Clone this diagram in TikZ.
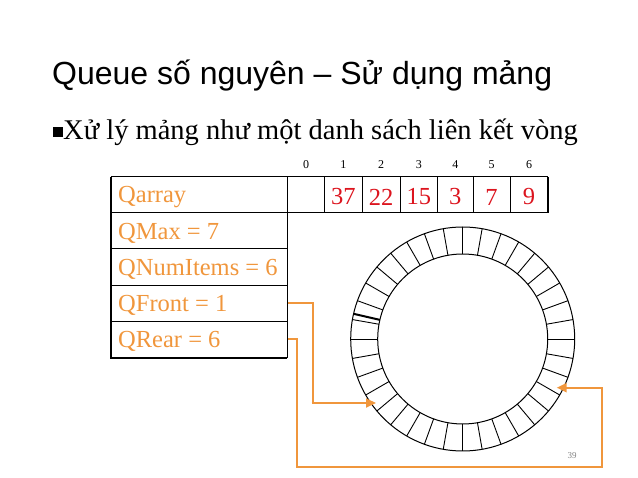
\documentclass[tikz,border=0pt]{standalone}
\usepackage{fontspec}
\setmainfont{Liberation Serif}
\newfontfamily\titlefont{Liberation Sans}
\usetikzlibrary{arrows.meta,calc}
\definecolor{qorange}{RGB}{240,150,60}
\definecolor{qred}{RGB}{220,20,30}
\tikzset{
  lbl/.style={anchor=west,text=qorange,font=\fontsize{24.5}{24.5}\selectfont,inner sep=0pt},
  num/.style={text=qred,font=\fontsize{24.5}{24.5}\selectfont,inner sep=0pt},
  idx/.style={font=\fontsize{12}{12}\selectfont,inner sep=0pt},
  conn/.style={draw=qorange,line width=2pt,-{Triangle[length=10pt,width=9pt]}},
  connplain/.style={draw=qorange,line width=2pt}
}
\begin{document}
\begin{tikzpicture}[x=1pt,y=-1pt]
\useasboundingbox (0,0) rectangle (638,478);
\node[anchor=base west,inner sep=0pt,font=\titlefont\fontsize{32}{32}\selectfont] (title) at (52,85) {Queue số nguyên – Sử dụng mảng};
\fill (53,127) rectangle (63,137);
\node[anchor=base west,inner sep=0pt,font=\fontsize{28.5}{28.5}\selectfont] (bullet) at (63,140) {Xử lý mảng như một danh sách liên kết vòng};
% table
\draw[line width=1pt] (111,177) rectangle (287,358);
\foreach \y in {213,249,286,322} \draw[line width=1pt] (111,\y) -- (287,\y);
\draw[line width=2pt] (111,177) -- (111,358) -- (287,358);
\draw[line width=1pt] (287,177) -- (548,177);
\draw[line width=1pt] (287,213) -- (548,213);
\draw[line width=2pt] (548,177) -- (548,213);
\foreach \x in {324.7,362,400,437.7,473,510.3} \draw[line width=0.9pt] (\x,177) -- (\x,213);
\node[lbl] (qa) at (118,197) {Qarray};
\node[lbl] (qm) at (118,233) {QMax = 7};
\node[lbl] (qn) at (118,269) {QNumItems = 6};
\node[lbl] (qf) at (118,305) {QFront = 1};
\node[lbl] (qr) at (118,341) {QRear = 6};
\foreach \i/\x in {0/306,1/343.3,2/381,3/418.8,4/455.3,5/491.6,6/529.1}
  \node[idx] (i\i) at (\x,165) {\i};
\foreach \v/\x in {37/343.3,22/381,15/418.8,3/455.3,7/491.6,9/529.1}
  \node[num] at (\x,197) {\v};
% ring
\coordinate (c) at (462.7,339);
\draw[line width=1pt] (c) circle[radius=112pt];
\draw[line width=1pt] (c) circle[radius=85pt];
\foreach \a in {0,10,...,350}
  \draw[line width=0.9pt] ($(c)+(\a:85pt)$) -- ($(c)+(\a:112pt)$);
\draw[line width=2pt] ($(c)+(167:85pt)$) -- ($(c)+(167:112pt)$);
% connectors
\coordinate (fs) at (288,302.7);
\coordinate (ft) at (376,403);
\coordinate (rs) at (288,339);
\coordinate (rt) at (556.7,387.7);
\draw[connplain] (fs) -- (312.7,302.7) -- (312.7,403);
\draw[conn] (311.7,403) -- (ft);
\draw[connplain] (rs) -- (297,339) -- (297,466.7) -- (601.7,466.7) -- (601.7,387.7);
\draw[conn] (602.7,387.7) -- (rt);
\node[idx,font=\fontsize{9}{9}\selectfont,text=gray] (pg) at (572,456) {39};
\end{tikzpicture}
\end{document}
